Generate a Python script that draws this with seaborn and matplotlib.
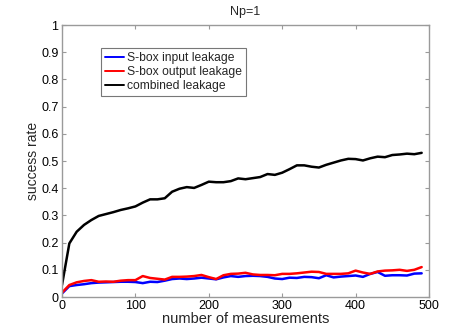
import matplotlib
matplotlib.use("Agg")
import matplotlib.pyplot as plt
import seaborn as sns
import pandas as pd

measurements = list(range(0, 500, 10))

input_leakage = [0.013, 0.040, 0.044, 0.047, 0.051, 0.053, 0.054, 0.055, 0.056, 0.056,
                 0.055, 0.051, 0.056, 0.055, 0.060, 0.066, 0.068, 0.066, 0.068, 0.071,
                 0.068, 0.065, 0.072, 0.077, 0.074, 0.077, 0.078, 0.077, 0.074, 0.068,
                 0.066, 0.071, 0.070, 0.074, 0.073, 0.069, 0.080, 0.072, 0.075, 0.077,
                 0.079, 0.074, 0.085, 0.092, 0.078, 0.080, 0.080, 0.079, 0.086, 0.087]

output_leakage = [0.016, 0.044, 0.054, 0.059, 0.062, 0.056, 0.057, 0.056, 0.060, 0.062,
                  0.062, 0.077, 0.070, 0.067, 0.064, 0.074, 0.074, 0.075, 0.077, 0.081,
                  0.073, 0.066, 0.080, 0.085, 0.086, 0.089, 0.083, 0.081, 0.081, 0.080,
                  0.085, 0.085, 0.087, 0.090, 0.093, 0.092, 0.085, 0.085, 0.085, 0.087,
                  0.097, 0.090, 0.085, 0.094, 0.097, 0.098, 0.100, 0.096, 0.100, 0.110]

combined_leakage = [0.044, 0.197, 0.240, 0.265, 0.283, 0.298, 0.305, 0.312, 0.320, 0.326,
                    0.333, 0.347, 0.359, 0.359, 0.363, 0.387, 0.398, 0.404, 0.401, 0.412,
                    0.424, 0.422, 0.422, 0.426, 0.436, 0.433, 0.437, 0.441, 0.452, 0.449,
                    0.457, 0.470, 0.484, 0.484, 0.479, 0.476, 0.486, 0.494, 0.502, 0.508,
                    0.507, 0.502, 0.510, 0.516, 0.514, 0.522, 0.524, 0.527, 0.525, 0.530]

series_names = ["S-box input leakage", "S-box output leakage", "combined leakage"]
series_colors = ["#0000ff", "#ff0000", "#000000"]

rows = []
for name, vals in zip(series_names, [input_leakage, output_leakage, combined_leakage]):
    for m, v in zip(measurements, vals):
        rows.append({"measurements": m, "rate": v, "series": name})
df = pd.DataFrame(rows)

sns.set_style("white")
plt.rcParams["font.family"] = ["Liberation Sans", "DejaVu Sans"]

fig = plt.figure(figsize=(4.74, 3.35), dpi=100)
ax = fig.add_axes([62 / 474, 1 - 297 / 335, (429 - 62) / 474, (297 - 25) / 335])

sns.lineplot(data=df, x="measurements", y="rate", hue="series",
             hue_order=series_names, palette=series_colors,
             linewidth=1.8, ax=ax, legend=True)

ax.set_xlim(0, 500)
ax.set_ylim(0, 1)
ax.set_xticks([0, 100, 200, 300, 400, 500])
ax.set_yticks([i / 10 for i in range(11)])
ax.set_yticklabels(["0", "0.1", "0.2", "0.3", "0.4", "0.5", "0.6", "0.7", "0.8", "0.9", "1"])

for sp in ax.spines.values():
    sp.set_color("#9a9a9a")
    sp.set_linewidth(1.0)
ax.tick_params(direction="in", length=3, width=0.8, color="#9a9a9a",
               labelsize=9, labelcolor="black", top=True, right=True,
               bottom=True, left=True, pad=2.5)

ax.set_xlabel("number of measurements", fontsize=10.5, labelpad=0)
ax.set_ylabel("success rate", fontsize=10, labelpad=1)
ax.set_title("Np=1", fontsize=9, pad=7)

leg = ax.legend(loc="upper left", bbox_to_anchor=(0.105, 0.915),
                fontsize=8.7, frameon=True, fancybox=False,
                handlelength=1.6, handletextpad=0.2, borderpad=0.35,
                labelspacing=0.15, borderaxespad=0)
leg.get_frame().set_edgecolor("#555555")
leg.get_frame().set_linewidth(0.8)
for line in leg.get_lines():
    line.set_linewidth(1.4)

fig.savefig("out.png", dpi=100)
